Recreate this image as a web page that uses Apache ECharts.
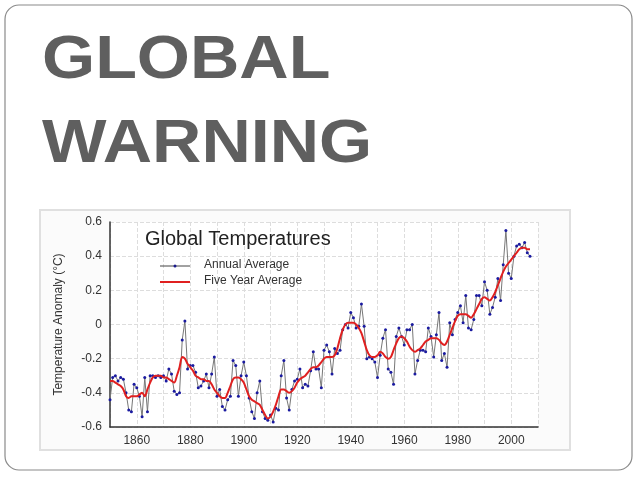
<!DOCTYPE html><html><head><meta charset="utf-8"><script src="https://cdn.jsdelivr.net/npm/echarts@6/dist/echarts.min.js"></script>
<style>html,body{margin:0;padding:0;background:#fff}#c{width:638px;height:478px}</style></head><body><div id="c"></div><script>
const startYear = 1850;
const annual = [-0.44,-0.31,-0.30,-0.33,-0.31,-0.32,-0.40,-0.50,-0.51,-0.35,
-0.37,-0.42,-0.54,-0.31,-0.51,-0.30,-0.30,-0.31,-0.30,-0.31,
-0.30,-0.33,-0.26,-0.29,-0.39,-0.41,-0.40,-0.09,0.02,-0.26,
-0.24,-0.24,-0.28,-0.37,-0.36,-0.33,-0.29,-0.37,-0.29,-0.19,
-0.42,-0.38,-0.48,-0.50,-0.44,-0.42,-0.21,-0.24,-0.42,-0.30,
-0.22,-0.30,-0.43,-0.51,-0.55,-0.40,-0.33,-0.51,-0.55,-0.56,
-0.53,-0.57,-0.49,-0.50,-0.30,-0.21,-0.43,-0.50,-0.38,-0.33,
-0.32,-0.26,-0.37,-0.35,-0.36,-0.27,-0.16,-0.26,-0.26,-0.37,
-0.15,-0.12,-0.16,-0.29,-0.14,-0.17,-0.15,-0.03,0.00,-0.02,
0.07,0.04,-0.02,-0.01,0.12,-0.01,-0.20,-0.19,-0.20,-0.22,
-0.31,-0.18,-0.08,-0.03,-0.26,-0.28,-0.35,-0.07,-0.02,-0.07,
-0.12,-0.03,-0.03,0.00,-0.29,-0.21,-0.15,-0.15,-0.16,-0.02,
-0.07,-0.19,-0.06,0.07,-0.21,-0.17,-0.25,0.01,-0.06,0.03,
0.07,0.11,0.01,0.17,-0.02,-0.03,0.03,0.17,0.17,0.11,
0.25,0.20,0.06,0.10,0.16,0.27,0.14,0.35,0.55,0.30,
0.27,0.40,0.46,0.47,0.45,0.48,0.42,0.40];
const fiveYear = [-0.33,-0.33,-0.34,-0.35,-0.36,-0.38,-0.42,-0.43,-0.42,-0.42,
-0.42,-0.41,-0.40,-0.42,-0.38,-0.34,-0.31,-0.30,-0.30,-0.30,
-0.31,-0.31,-0.32,-0.33,-0.34,-0.30,-0.25,-0.19,-0.20,-0.23,
-0.25,-0.27,-0.30,-0.31,-0.32,-0.32,-0.33,-0.33,-0.35,-0.38,
-0.40,-0.42,-0.43,-0.43,-0.40,-0.36,-0.32,-0.31,-0.31,-0.32,
-0.34,-0.38,-0.42,-0.44,-0.45,-0.46,-0.47,-0.50,-0.53,-0.55,
-0.54,-0.51,-0.47,-0.42,-0.38,-0.38,-0.39,-0.40,-0.39,-0.37,
-0.34,-0.32,-0.31,-0.30,-0.28,-0.26,-0.25,-0.25,-0.24,-0.22,
-0.20,-0.19,-0.19,-0.19,-0.18,-0.14,-0.08,-0.03,0.00,0.01,
0.01,0.01,0.00,-0.02,-0.05,-0.10,-0.15,-0.18,-0.19,-0.19,
-0.18,-0.16,-0.17,-0.19,-0.20,-0.19,-0.15,-0.11,-0.08,-0.07,
-0.08,-0.10,-0.13,-0.15,-0.16,-0.15,-0.14,-0.12,-0.10,-0.09,
-0.08,-0.08,-0.08,-0.09,-0.11,-0.12,-0.10,-0.06,-0.02,0.02,
0.05,0.06,0.06,0.06,0.05,0.04,0.06,0.09,0.12,0.15,
0.16,0.15,0.14,0.16,0.19,0.23,0.27,0.31,0.34,0.36,
0.38,0.40,0.42,0.44,0.45,0.45,0.44,0.44];
const titleLines = ['GLOBAL','WARNING'];
const chartTitle = 'Global Temperatures';
const yName = 'Temperature Anomaly (°C)';
const seriesNames = ['Annual Average','Five Year Average'];

const ann = annual.map((v,i)=>[startYear+i,v]);
const five = fiveYear.map((v,i)=>[startYear+i,v]);
const ch = echarts.init(document.getElementById('c'));
const fam = 'Liberation Sans, Arial, sans-serif';
ch.setOption({
  animation:false,
  graphic:[
    {type:'rect',shape:{x:5,y:5,width:627,height:465,r:14},style:{fill:'#fff',stroke:'#8a8a8a',lineWidth:1.2},z:-10},
    {type:'text',x:42,y:61,scaleX:1.12,style:{text:titleLines[0],font:'bold 61px '+fam,fill:'#5f5f5f',verticalAlign:'middle'}},
    {type:'text',x:42,y:145,scaleX:1.12,style:{text:titleLines[1],font:'bold 61px '+fam,fill:'#5f5f5f',verticalAlign:'middle'}},
    {type:'rect',shape:{x:40,y:210,width:530,height:240},style:{fill:'#fbfbfb',stroke:'#e0e0e0',lineWidth:2},z:-5},
    {type:'rect',shape:{x:110,y:222,width:428,height:205},style:{fill:'#fff'},z:-4},
    {type:'text',left:145,top:229,style:{text:chartTitle,font:'20px '+fam,fill:'#222'},z:20},
    {type:'line',shape:{x1:160,y1:266,x2:190,y2:266},style:{stroke:'#444',lineWidth:1},z:20},
    {type:'circle',shape:{cx:175,cy:266,r:1.5},style:{fill:'#1a1a8c'},z:21},
    {type:'text',left:204,top:259,style:{text:seriesNames[0],font:'12px '+fam,fill:'#333'},z:20},
    {type:'line',shape:{x1:160,y1:282,x2:190,y2:282},style:{stroke:'#e02020',lineWidth:2},z:20},
    {type:'text',left:204,top:275,style:{text:seriesNames[1],font:'12px '+fam,fill:'#333'},z:20}
  ],
  grid:{left:110,top:222,width:428,height:205},
  xAxis:{type:'value',min:1850,max:2010,interval:10,
    axisLine:{show:true,onZero:false,lineStyle:{color:'#333',width:1.5}},
    axisTick:{show:false},
    axisLabel:{formatter:v=>(v%20===0&&v>1850&&v<2010)?String(v):'',color:'#333',fontSize:12,fontFamily:fam},
    splitLine:{show:true,lineStyle:{color:'#ddd',type:'dashed'}}},
  yAxis:{type:'value',min:-0.6,max:0.6,interval:0.2,
    name:yName,nameLocation:'middle',nameGap:45,nameTextStyle:{color:'#333',fontSize:12,fontFamily:fam},
    axisLine:{show:true,lineStyle:{color:'#333',width:1.5}},axisTick:{show:false},
    axisLabel:{formatter:v=>Math.abs(v)<1e-9?'0':v.toFixed(1),color:'#333',fontSize:12,fontFamily:fam},
    splitLine:{show:true,lineStyle:{color:'#ddd',type:'dashed'}}},
  series:[
    {name:seriesNames[0],type:'line',data:ann,symbol:'circle',symbolSize:3,
     lineStyle:{color:'#777',width:1},itemStyle:{color:'#1a1aa0'}},
    {name:seriesNames[1],type:'line',data:five,symbol:'none',smooth:0.3,
     lineStyle:{color:'#e02020',width:2},z:5}
  ]
});
</script></body></html>
